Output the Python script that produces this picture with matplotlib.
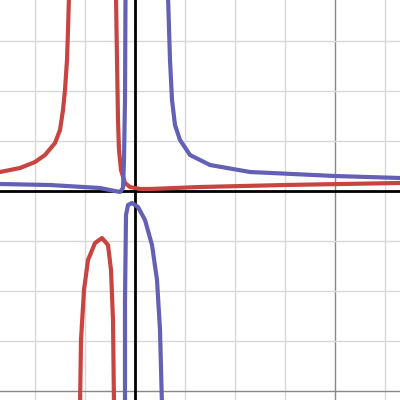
import numpy as np
import matplotlib.pyplot as plt

# hand-read points of each branch (graph units, one grid cell = 1)
red1_x = [-2.7, -2.3, -2.0, -1.8, -1.6, -1.5, -1.44, -1.4, -1.36, -1.34, -1.32]
red1_y = [0.38, 0.46, 0.58, 0.72, 0.96, 1.22, 1.62, 2.02, 2.62, 3.22, 3.9]
red2_x = [-0.38, -0.36, -0.34, -0.32, -0.28, -0.2, -0.1, 0.1, 0.3, 1.3, 3.0, 5.3]
red2_y = [3.9, 2.62, 1.42, 0.82, 0.42, 0.16, 0.08, 0.04, 0.04, 0.08, 0.12, 0.16]
red3_x = [-1.1, -1.08, -1.02, -0.94, -0.8, -0.66, -0.54, -0.48, -0.44, -0.42]
red3_y = [-4.3, -2.98, -1.98, -1.38, -1.04, -0.94, -1.08, -1.58, -2.58, -4.3]

blue1_x = [-2.7, -1.7, -0.7, -0.4, -0.3, -0.24, -0.22, -0.2, -0.19]
blue1_y = [0.14, 0.12, 0.06, 0.0, -0.02, 0.06, 0.62, 1.82, 3.9]
blue2_x = [0.66, 0.7, 0.74, 0.8, 0.9, 1.1, 1.5, 2.3, 4.0, 5.3]
blue2_y = [3.9, 2.62, 1.82, 1.32, 1.02, 0.72, 0.52, 0.38, 0.3, 0.26]
blue3_x = [-0.2, -0.2, -0.18, -0.14, -0.06, 0.06, 0.2, 0.34, 0.44, 0.5, 0.54]
blue3_y = [-4.3, -2.18, -0.48, -0.28, -0.24, -0.32, -0.58, -1.08, -1.78, -2.78, -4.3]

red = '#c74440'
blue = '#6360b5'

fig = plt.figure(figsize=(4, 4), dpi=100)
ax = fig.add_axes([0, 0, 1, 1])
ax.set_xlim(-2.7, 5.3)
ax.set_ylim(-4.18, 3.82)

for g in range(-2, 6):
    ax.axvline(g, color='#888888' if g == 4 else '#d8d8d8', lw=1.0, zorder=0)
for g in range(-4, 4):
    ax.axhline(g, color='#888888' if g == -4 else '#d8d8d8', lw=1.0, zorder=0)
ax.axvline(0, color='black', lw=2, zorder=1)
ax.axhline(0, color='black', lw=2, zorder=1)

for xs, ys in [(red1_x, red1_y), (red2_x, red2_y), (red3_x, red3_y)]:
    ax.plot(xs, ys, color=red, lw=3, solid_capstyle='round', zorder=3)
for xs, ys in [(blue1_x, blue1_y), (blue2_x, blue2_y), (blue3_x, blue3_y)]:
    ax.plot(xs, ys, color=blue, lw=3, solid_capstyle='round', zorder=3)

ax.axis('off')
fig.savefig('out.png', dpi=100)
